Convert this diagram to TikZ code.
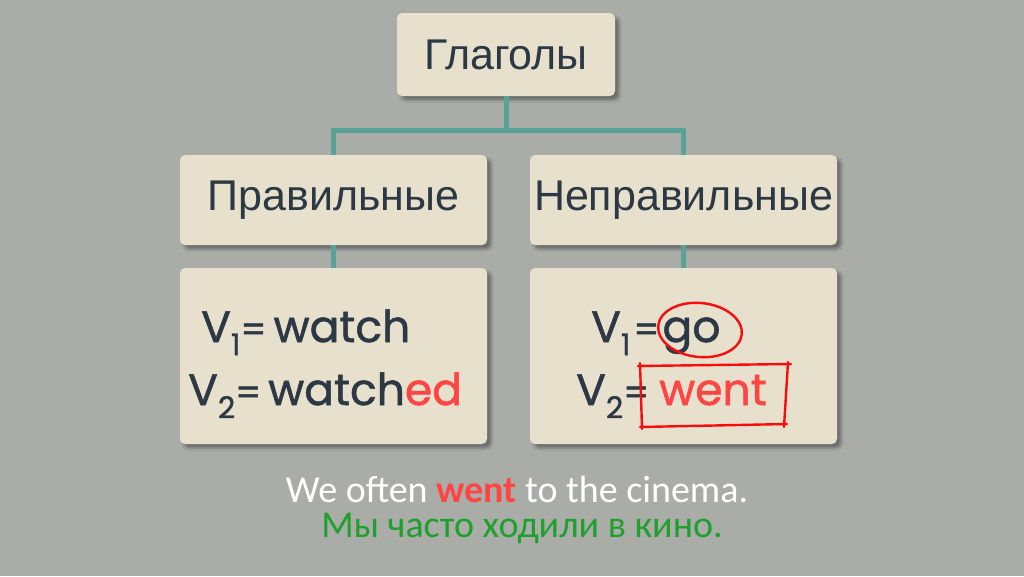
\documentclass[tikz,border=0pt]{standalone}
\usepackage{fontspec}
\setmainfont{Liberation Sans}
\newfontfamily\verbfont[FakeBold=1.2]{Poppins}
\newfontfamily\notefont{Carlito}
\usepackage{tikz}
\usetikzlibrary{positioning}
\usetikzlibrary{shadows.blur}
\definecolor{bg}{RGB}{170,172,168}
\definecolor{cardfill}{RGB}{230,224,205}
\definecolor{ink}{RGB}{44,56,68}
\definecolor{branchcol}{RGB}{88,162,152}
\definecolor{endcol}{RGB}{255,68,68}
\definecolor{pencol}{RGB}{250,12,12}
\definecolor{ruscol}{RGB}{30,160,45}
\tikzset{x=1pt, y=-1pt,
card/.style={ % Sets the properties for each box
fill=cardfill,
rounded corners=5pt,
minimum width=307pt,
text=ink,
font=\fontsize{43}{50}\selectfont,
blur shadow={shadow xshift=4pt, shadow yshift=-4pt, shadow blur steps=6, shadow opacity=35}},
branch/.style={ % Sets the properties for each connector
draw=branchcol,
line width=5pt},
verb/.style={
text=ink,
inner sep=0pt,
anchor=base west,
font=\verbfont\fontsize{44}{50}\selectfont},
redpen/.style={ % Hand drawn marks
draw=pencol,
line width=2.4pt,
line cap=round,
line join=round}}
\newcommand{\vidx}[1]{\raisebox{-0.3em}{\fontsize{30}{30}\selectfont #1}}
\newcommand{\eq}{{\fontsize{36}{40}\selectfont=}}

\begin{document}
\begin{tikzpicture}
\fill[bg] (0,0) rectangle (1024,576);
\coordinate (fork) at (506,130);
\node[card, minimum width=218pt, minimum height=83pt] (g0) at (506,54.5) {Глаголы};
\node[card, minimum height=90pt] (g1) at (333.5,200) {Правильные};
\node[card, minimum height=90pt] (g2) at (683.5,200) {Неправильные};
\node[card, minimum height=176pt] (v1) at (333.5,356) {};
\node[card, minimum height=176pt] (v2) at (683.5,356) {};
\draw[branch] (g0) -- (fork);
\draw[branch] (g1.north) |- (fork) -| (g2.north);
\draw[branch] (g1) -- (v1);
\draw[branch] (g2) -- (v2);
\node[verb] (l1) at (201,342) {V\vidx{1}\eq\kern7pt watch};
\node[verb] (l2) at (188,405) {V\vidx{2}\eq\kern7pt watch\textcolor{endcol}{ed}};
\node[verb] (r1) at (591,342) {V\vidx{1}\kern3pt\eq\kern3pt go};
\node[verb] (r2) at (576,405) {V\vidx{2}\eq\kern10pt\textcolor{endcol}{went}};
\draw[redpen] (700,330) ellipse [x radius=42, y radius=27, rotate=-6];
\draw[redpen] (638,366) -- (791,364) (788,362) -- (784,427) (787,424) -- (640,427) (642,429) -- (640,363);
\node[font=\notefont\fontsize{38}{44}\selectfont, text=white, anchor=base] (en) at (517,502) {We often \textcolor{endcol}{\bfseries went} to the cinema.};
\node[font=\notefont\fontsize{38}{44}\selectfont, text=ruscol, anchor=base] (ru) at (522,537) {Мы часто ходили в кино.};
\end{tikzpicture}
\end{document}
